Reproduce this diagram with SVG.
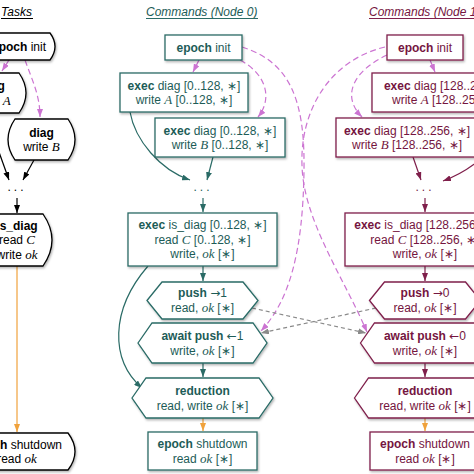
<svg xmlns="http://www.w3.org/2000/svg" width="474" height="474" viewBox="0 0 474 474">
<style>
.bg{fill:#fff}
text{font-family:"Liberation Sans",Arial,sans-serif;font-size:12px;text-anchor:middle}
.b{font-weight:bold}
.m{font-family:"Liberation Serif","Times New Roman",serif;font-style:italic;font-size:13px}
.ar{font-family:"DejaVu Sans",sans-serif;font-size:12px}
.title{font-style:italic;text-anchor:start}
.k{fill:#000}
.c0{fill:#1d5c57}
.c1{fill:#751540}
.sk{fill:#fff;stroke:#000;stroke-width:1.3;filter:url(#sh)}
.s0{fill:#fff;stroke:#2a6b66;stroke-width:1.3;filter:url(#sh)}
.s1{fill:#fff;stroke:#7f1f4b;stroke-width:1.3;filter:url(#sh)}
.ul{stroke-width:1}
.a{fill:none;stroke-width:1.2}
.ak{stroke:#000;marker-end:url(#mk)}
.a0{stroke:#2a6b66;marker-end:url(#m0)}
.a1{stroke:#7f1f4b;marker-end:url(#m1)}
.ao{stroke:#f0a23c;marker-end:url(#mo)}
.ap{stroke:#cc74d2;stroke-dasharray:6,3.5;marker-end:url(#mp)}
.ag{stroke:#8a8a8a;stroke-dasharray:4,3;marker-end:url(#mg)}
</style>
<defs>
<filter id="sh" x="-10%" y="-15%" width="125%" height="140%">
<feDropShadow dx="1" dy="1.5" stdDeviation="0.8" flood-color="#000" flood-opacity="0.3"/>
</filter>
<marker id="mk" viewBox="0 0 8 6" refX="8" refY="3" markerWidth="8" markerHeight="6" markerUnits="userSpaceOnUse" orient="auto"><path d="M0,0 L8,3 L0,6 Z" fill="#000" stroke="none"/></marker>
<marker id="m0" viewBox="0 0 8 6" refX="8" refY="3" markerWidth="8" markerHeight="6" markerUnits="userSpaceOnUse" orient="auto"><path d="M0,0 L8,3 L0,6 Z" fill="#2a6b66" stroke="none"/></marker>
<marker id="m1" viewBox="0 0 8 6" refX="8" refY="3" markerWidth="8" markerHeight="6" markerUnits="userSpaceOnUse" orient="auto"><path d="M0,0 L8,3 L0,6 Z" fill="#7f1f4b" stroke="none"/></marker>
<marker id="mo" viewBox="0 0 8 6" refX="8" refY="3" markerWidth="8" markerHeight="6" markerUnits="userSpaceOnUse" orient="auto"><path d="M0,0 L8,3 L0,6 Z" fill="#f0a23c" stroke="none"/></marker>
<marker id="mp" viewBox="0 0 8 6" refX="8" refY="3" markerWidth="8" markerHeight="6" markerUnits="userSpaceOnUse" orient="auto"><path d="M0,0 L8,3 L0,6 Z" fill="#cc74d2" stroke="none"/></marker>
<marker id="mg" viewBox="0 0 8 6" refX="8" refY="3" markerWidth="8" markerHeight="6" markerUnits="userSpaceOnUse" orient="auto"><path d="M0,0 L8,3 L0,6 Z" fill="#8a8a8a" stroke="none"/></marker>
</defs>
<rect class="bg" x="0" y="0" width="474" height="474"/>

<!-- titles -->
<g id="titles">
<text class="title k" x="1" y="15.5">Tasks</text>
<line class="ul" x1="1" y1="18.5" x2="33" y2="18.5" stroke="#000"/>
<text class="title c0" x="146" y="15.5">Commands (Node 0)</text>
<line class="ul" x1="146" y1="18.5" x2="258" y2="18.5" stroke="#2a6b66"/>
<text class="title c1" x="369" y="15.5">Commands (Node 1)</text>
<line class="ul" x1="369" y1="18.5" x2="481" y2="18.5" stroke="#7f1f4b"/>
</g>

<!-- connectors -->
<g id="connectors">
<!-- tasks -->
<path class="a ap" d="M9,60 L2,71"/>
<path class="a ap" d="M25,60 C32,80 40,95 40,117"/>
<path class="a ak" d="M-15,113 L9,180"/>
<path class="a ak" d="M34,160 L23,180"/>
<path class="a ak" d="M17,198 L17,213"/>
<path class="a ao" d="M17,266 L17,432"/>
<!-- node 0 -->
<path class="a ap" d="M199,60 L193,72"/>
<path class="a ap" d="M240,60 C268,75 272,100 258,117"/>
<path class="a ap" d="M242,47 C290,62 305,100 304,170 C303,250 290,300 261,331"/>
<path class="a a0" d="M130,112 C135,140 160,170 190,180"/>
<path class="a a0" d="M213,157 L207,180"/>
<path class="a a0" d="M203,198 L203,212"/>
<path class="a a0" d="M203,266 L203,281"/>
<path class="a a0" d="M148,266 C110,310 110,360 142,388"/>
<path class="a a0" d="M203,363 L203,377"/>
<path class="a ao" d="M203,418 L203,431"/>
<!-- node 1 -->
<path class="a ap" d="M430,60 L435,72"/>
<path class="a ap" d="M387,55 C355,70 340,95 362,117"/>
<path class="a ap" d="M385,47 C330,60 300,110 302,165 C303,220 345,280 367,332"/>
<path class="a a1" d="M512,112 C505,140 478,168 443,181"/>
<path class="a a1" d="M413,157 L421,180"/>
<path class="a a1" d="M425,198 L425,212"/>
<path class="a a1" d="M425,266 L425,281"/>
<path class="a a1" d="M476,266 C517,310 517,360 486,388"/>
<path class="a a1" d="M425,363 L425,377"/>
<path class="a ao" d="M425,418 L425,431"/>
<!-- cross-node pushes -->
<path class="a ag" d="M252,308 L366,333"/>
<path class="a ag" d="M376,308 L261,333"/>
</g>

<!-- Tasks -->
<g id="t_epoch">
<path class="sk" d="M-16,33 H50 Q60,46.5 50,60 H-16 Q-26,46.5 -16,33 Z"/>
<text class="k" x="19" y="50.8"><tspan class="b">epoch</tspan> init</text>
</g>
<g id="t_diagA">
<path class="sk" d="M-34,73 H19 Q33,93 19,113 H-34 Q-48,93 -34,73 Z"/>
<text class="k b" x="-7.5" y="90">diag</text>
<text class="k" x="-7.5" y="104.5">write <tspan class="m">A</tspan></text>
</g>
<g id="t_diagB">
<path class="sk" d="M15,119 H68 Q82,139.5 68,160 H15 Q1,139.5 15,119 Z"/>
<text class="k b" x="41.5" y="136.5">diag</text>
<text class="k" x="41.5" y="151">write <tspan class="m">B</tspan></text>
</g>
<g id="t_dots"><text class="k" x="17" y="191" style="letter-spacing:3px">...</text></g>
<g id="t_isdiag">
<path class="sk" d="M-9,214 H43 Q61,240 43,266 H-9 Q-27,240 -9,214 Z"/>
<text class="k b" x="17" y="229.8">is_diag</text>
<text class="k" x="17" y="244.3">read <tspan class="m">C</tspan></text>
<text class="k" x="17" y="258.8">write <tspan class="m">ok</tspan></text>
</g>
<g id="t_shutdown">
<path class="sk" d="M-34,433 H68 Q82,451.5 68,470 H-34 Q-48,451.5 -34,433 Z"/>
<text class="k" x="17" y="448.5"><tspan class="b">epoch</tspan> shutdown</text>
<text class="k" x="17" y="463">read <tspan class="m">ok</tspan></text>
</g>

<!-- Node 0 -->
<g id="n0_epoch">
<rect class="s0" x="165" y="35" width="77" height="25"/>
<text class="c0" x="203.5" y="51.8"><tspan class="b">epoch</tspan> init</text>
</g>
<g id="n0_execA">
<rect class="s0" x="120" y="73" width="128" height="39"/>
<text class="c0" x="184" y="89.5"><tspan class="b">exec</tspan> diag [0..128, ∗]</text>
<text class="c0" x="184" y="104">write <tspan class="m">A</tspan> [0..128, ∗]</text>
</g>
<g id="n0_execB">
<rect class="s0" x="155" y="118" width="130" height="39"/>
<text class="c0" x="220" y="134.5"><tspan class="b">exec</tspan> diag [0..128, ∗]</text>
<text class="c0" x="220" y="149">write <tspan class="m">B</tspan> [0..128, ∗]</text>
</g>
<g id="n0_dots"><text class="c0" x="203" y="191" style="letter-spacing:3px">...</text></g>
<g id="n0_isdiag">
<rect class="s0" x="128" y="213" width="149" height="53"/>
<text class="c0" x="202.5" y="229.3"><tspan class="b">exec</tspan> is_diag [0..128, ∗]</text>
<text class="c0" x="202.5" y="243.8">read <tspan class="m">C</tspan> [0..128, ∗]</text>
<text class="c0" x="202.5" y="258.3">write, <tspan class="m">ok</tspan> [∗]</text>
</g>
<g id="n0_push">
<polygon class="s0" points="147,300.5 162,282 243,282 258,300.5 243,319 162,319"/>
<text class="c0" x="202.5" y="297"><tspan class="b">push</tspan> <tspan class="ar">→</tspan>1</text>
<text class="c0" x="202.5" y="311.5">read, <tspan class="m">ok</tspan> [∗]</text>
</g>
<g id="n0_await">
<polygon class="s0" points="138,343 152,323 253,323 267,343 253,363 152,363"/>
<text class="c0" x="202.5" y="340"><tspan class="b">await push</tspan> <tspan class="ar">←</tspan>1</text>
<text class="c0" x="202.5" y="355">write, <tspan class="m">ok</tspan> [∗]</text>
</g>
<g id="n0_reduction">
<polygon class="s0" points="132,398 146,378 259,378 273,398 259,418 146,418"/>
<text class="c0 b" x="202.5" y="395">reduction</text>
<text class="c0" x="202.5" y="409.5">read, write <tspan class="m">ok</tspan> [∗]</text>
</g>
<g id="n0_shutdown">
<rect class="s0" x="148" y="432" width="109" height="38"/>
<text class="c0" x="202.5" y="448"><tspan class="b">epoch</tspan> shutdown</text>
<text class="c0" x="202.5" y="462.5">read <tspan class="m">ok</tspan> [∗]</text>
</g>

<!-- Node 1 -->
<g id="n1_epoch">
<rect class="s1" x="387" y="35" width="76" height="25"/>
<text class="c1" x="425" y="51.8"><tspan class="b">epoch</tspan> init</text>
</g>
<g id="n1_execA">
<rect class="s1" x="372" y="73" width="150" height="39"/>
<text class="c1" x="447" y="89.5"><tspan class="b">exec</tspan> diag [128..256, ∗]</text>
<text class="c1" x="447" y="104">write <tspan class="m">A</tspan> [128..256, ∗]</text>
</g>
<g id="n1_execB">
<rect class="s1" x="336" y="118" width="142" height="39"/>
<text class="c1" x="407" y="134.5"><tspan class="b">exec</tspan> diag [128..256, ∗]</text>
<text class="c1" x="407" y="149">write <tspan class="m">B</tspan> [128..256, ∗]</text>
</g>
<g id="n1_dots"><text class="c1" x="425" y="191" style="letter-spacing:3px">...</text></g>
<g id="n1_isdiag">
<rect class="s1" x="345" y="213" width="160" height="53"/>
<text class="c1" x="425" y="229.3"><tspan class="b">exec</tspan> is_diag [128..256, ∗]</text>
<text class="c1" x="425" y="243.8">read <tspan class="m">C</tspan> [128..256, ∗]</text>
<text class="c1" x="425" y="258.3">write, <tspan class="m">ok</tspan> [∗]</text>
</g>
<g id="n1_push">
<polygon class="s1" points="369.5,300.5 384.5,282 465.5,282 480.5,300.5 465.5,319 384.5,319"/>
<text class="c1" x="425" y="297"><tspan class="b">push</tspan> <tspan class="ar">→</tspan>0</text>
<text class="c1" x="425" y="311.5">read, <tspan class="m">ok</tspan> [∗]</text>
</g>
<g id="n1_await">
<polygon class="s1" points="360.5,343 374.5,323 475.5,323 489.5,343 475.5,363 374.5,363"/>
<text class="c1" x="425" y="340"><tspan class="b">await push</tspan> <tspan class="ar">←</tspan>0</text>
<text class="c1" x="425" y="355">write, <tspan class="m">ok</tspan> [∗]</text>
</g>
<g id="n1_reduction">
<polygon class="s1" points="354.5,398 368.5,378 481.5,378 495.5,398 481.5,418 368.5,418"/>
<text class="c1 b" x="425" y="395">reduction</text>
<text class="c1" x="425" y="409.5">read, write <tspan class="m">ok</tspan> [∗]</text>
</g>
<g id="n1_shutdown">
<rect class="s1" x="370" y="432" width="110" height="38"/>
<text class="c1" x="425" y="448"><tspan class="b">epoch</tspan> shutdown</text>
<text class="c1" x="425" y="462.5">read <tspan class="m">ok</tspan> [∗]</text>
</g>
</svg>
